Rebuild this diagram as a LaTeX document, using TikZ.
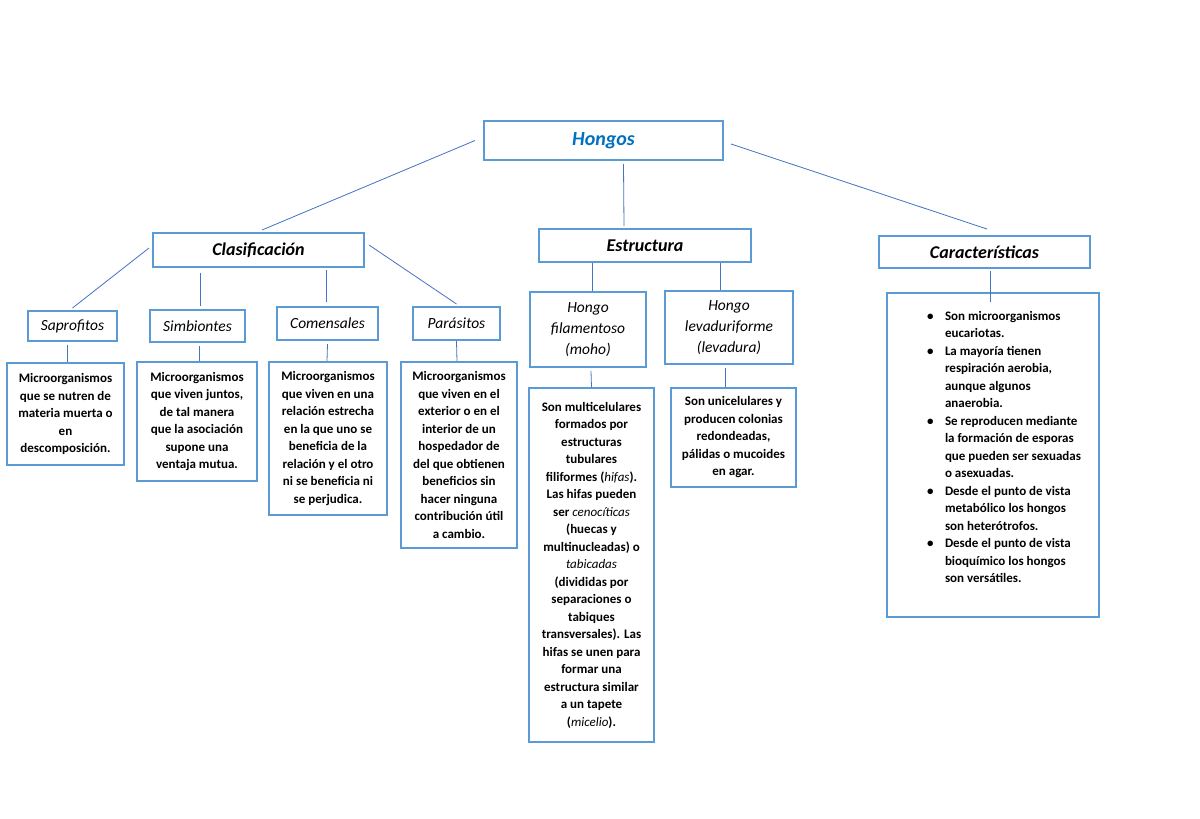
\documentclass[tikz,border=0pt]{standalone}
\usepackage{fontspec}
\setmainfont{Carlito}
\usepackage{array}
\usetikzlibrary{positioning}
\definecolor{boxblue}{HTML}{5B9BD5}
\definecolor{lineblue}{HTML}{4472C4}
\definecolor{titleblue}{HTML}{0070C0}
\begin{document}
\begin{tikzpicture}[x=1pt,y=-1pt,
	box/.style={draw=boxblue,line width=2pt,fill=white,inner sep=0pt,align=center},
	head/.style={box,font=\fontsize{18}{21}\selectfont\bfseries\itshape},
	sub/.style={box,font=\fontsize{15.5}{21}\selectfont\itshape},
	txt/.style={box,font=\fontsize{13}{17.5}\selectfont\bfseries},
	conn/.style={draw=lineblue,line width=0.8pt}]
	\useasboundingbox[fill=white] (0,0) rectangle (1200,819);
	% top
	\node[head,minimum width=239,minimum height=39,text=titleblue,font=\fontsize{20}{24}\selectfont\bfseries\itshape] (hongos) at (603.5,140.5) {Hongos};
	\node[head,minimum width=211,minimum height=34] (clas) at (258.5,250) {Clasificación};
	\node[head,minimum width=212,minimum height=33] (estr) at (645,245.5) {Estructura};
	\node[head,minimum width=211,minimum height=32] (carac) at (984.5,252) {Características};
	% clasificacion
	\node[sub,minimum width=89,minimum height=30] (sapro) at (72.5,326) {Saprofitos};
	\node[sub,minimum width=95,minimum height=32] (simbi) at (197.5,326) {Simbiontes};
	\node[sub,minimum width=101,minimum height=33] (comen) at (327.5,323.5) {Comensales};
	\node[sub,minimum width=87,minimum height=33] (paras) at (456.5,323.5) {Parásitos};
	\node[txt,minimum width=117,minimum height=102] (tsapro) at (65.5,414) {Microorganismos\\que se nutren de\\materia muerta o\\en\\descomposición.};
	\node[txt,minimum width=120,minimum height=119] (tsimbi) at (197,421.5) {Microorganismos\\que viven juntos,\\de tal manera\\que la asociación\\supone una\\ventaja mutua.};
	\node[txt,minimum width=118,minimum height=153] (tcomen) at (328,438.5) {Microorganismos\\que viven en una\\relación estrecha\\en la que uno se\\beneficia de la\\relación y el otro\\ni se beneficia ni\\se perjudica.};
	\node[txt,minimum width=116,minimum height=186] (tparas) at (459,455) {Microorganismos\\que viven en el\\exterior o en el\\interior de un\\hospedador de\\del que obtienen\\beneficios sin\\hacer ninguna\\contribución útil\\a cambio.};
	% estructura
	\node[sub,minimum width=116,minimum height=75] (hfila) at (588,329.5) {Hongo\\filamentoso\\(moho)};
	\node[sub,minimum width=128,minimum height=73] (hleva) at (729,327.5) {Hongo\\levaduriforme\\(levadura)};
	\node[txt,minimum width=125,minimum height=354] (tfila) at (591.5,565) {Son multicelulares\\formados por\\estructuras\\tubulares\\filiformes (\textmd{\textit{hifas}}).\\Las hifas pueden\\ser \textmd{\textit{cenocíticas}}\\(huecas y\\multinucleadas) o\\\textmd{\textit{tabicadas}}\\(divididas por\\separaciones o\\tabiques\\transversales). Las\\hifas se unen para\\formar una\\estructura similar\\a un tapete\\(\textmd{\textit{micelio}}).};
	\node[txt,minimum width=125,minimum height=99] (tleva) at (733.5,437.5) {Son unicelulares y\\producen colonias\\redondeadas,\\pálidas o mucoides\\en agar.};
	% caracteristicas
	\node[txt,minimum width=212,minimum height=324] (tcarac) at (993,455) {\begin{tabular}{@{\hspace{36pt}}p{18pt}@{}>{\raggedright\arraybackslash}p{150pt}@{}}
		\textbullet & Son microorganismos\\ & eucariotas.\\
		\textbullet & La mayoría tienen\\ & respiración aerobia,\\ & aunque algunos\\ & anaerobia.\\
		\textbullet & Se reproducen mediante\\ & la formación de esporas\\ & que pueden ser sexuadas\\ & o asexuadas.\\
		\textbullet & Desde el punto de vista\\ & metabólico los hongos\\ & son heterótrofos.\\
		\textbullet & Desde el punto de vista\\ & bioquímico los hongos\\ & son versátiles.\\[14pt]
	\end{tabular}};
	% connectors
	\draw[conn] ([xshift=-8pt]hongos.west) -- ([xshift=3.5pt,yshift=2pt]clas.north);
	\draw[conn] ([xshift=20pt,yshift=-3pt]hongos.south) -- ([xshift=-21pt,yshift=2pt]estr.north);
	\draw[conn] ([xshift=7pt,yshift=-3.5pt]hongos.east) -- ([xshift=2.5pt,yshift=6pt]carac.north);
	\draw[conn] ([xshift=-3pt,yshift=2pt]clas.west) -- ([yshift=2pt]sapro.north);
	\draw[conn] ([xshift=-58.5pt,yshift=-5pt]clas.south) -- ([xshift=2.5pt,yshift=3pt]simbi.north);
	\draw[conn] ([xshift=67.5pt,yshift=-2pt]clas.south) -- ([xshift=-1.5pt,yshift=4pt]comen.north);
	\draw[conn] ([xshift=4pt,yshift=5pt]clas.east) -- ([yshift=2pt]paras.north);
	\draw[conn] ([xshift=-5.5pt,yshift=-3pt]sapro.south) -- ([xshift=1.5pt]tsapro.north);
	\draw[conn] ([xshift=1.5pt,yshift=-3pt]simbi.south) -- ([xshift=2pt]tsimbi.north);
	\draw[conn] ([yshift=-3pt]comen.south) -- ([xshift=-1pt]tcomen.north);
	\draw[conn] (paras.south) -- ([xshift=-2pt]tparas.north);
	\draw[conn] ([xshift=-53pt]estr.south) -- ([xshift=4pt]hfila.north);
	\draw[conn] ([xshift=75pt]estr.south) -- ([xshift=-9pt]hleva.north);
	\draw[conn] ([xshift=3pt,yshift=-3pt]hfila.south) -- (tfila.north);
	\draw[conn] ([xshift=-4pt,yshift=-3pt]hleva.south) -- ([xshift=-8.5pt]tleva.north);
	\draw[conn] ([xshift=5.5pt,yshift=-2pt]carac.south) -- ([xshift=-3pt,yshift=-10pt]tcarac.north);
\end{tikzpicture}
\end{document}
